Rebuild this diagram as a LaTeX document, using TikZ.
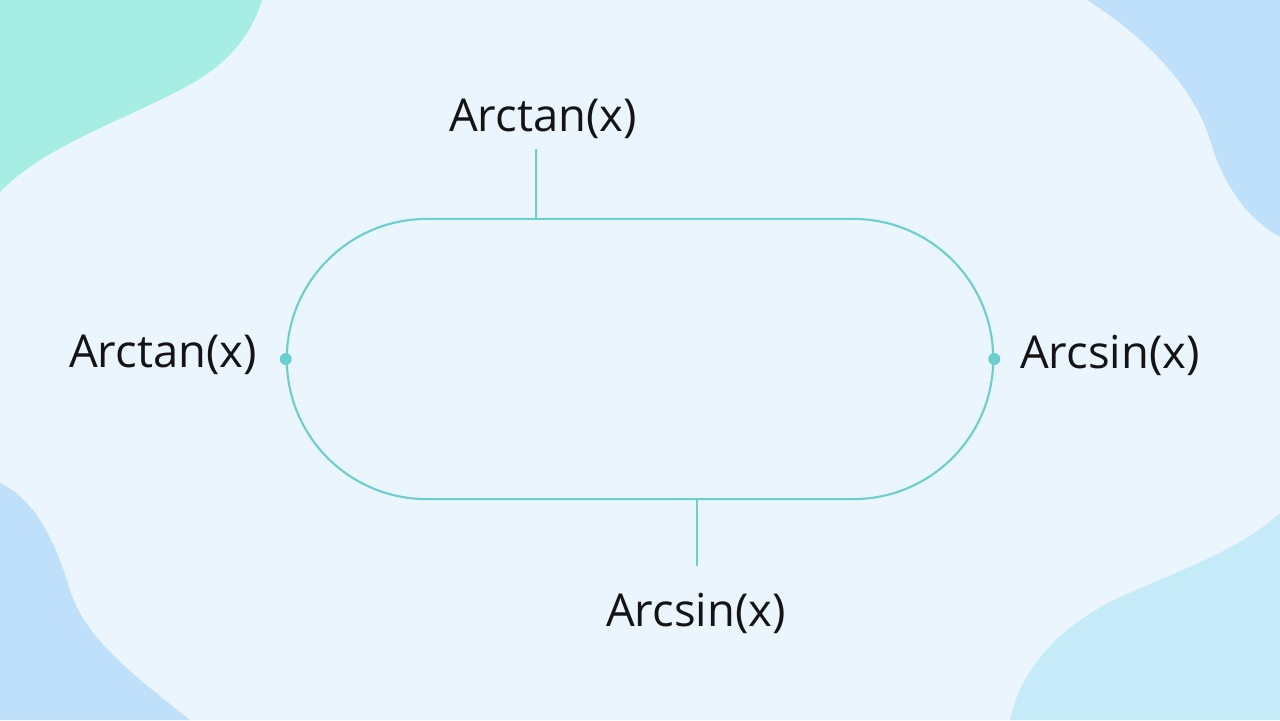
\documentclass[tikz,border=0pt]{standalone}
\usepackage{fontspec}
\setmainfont{Open Sans}
\usepackage{tikz}
\usetikzlibrary{positioning,calc}

\definecolor{bgblue}{HTML}{EAF5FE}
\definecolor{blobteal}{HTML}{A6EEE3}
\definecolor{blobblue}{HTML}{BEE0FB}
\definecolor{blobcyan}{HTML}{C6EBF8}
\definecolor{loopcol}{HTML}{6CCFCF}
\definecolor{labeltext}{HTML}{141414}

\tikzset{
	funclabel/.style={font=\fontsize{12.9pt}{15pt}\selectfont, text=labeltext, inner sep=0pt},
	loopline/.style={draw=loopcol, line width=0.6pt},
	enddot/.style={circle, fill=loopcol, inner sep=0pt, minimum size=0.12cm},
}

\begin{document}
\begin{tikzpicture}[x=0.01cm, y=-0.01cm]
		\fill[bgblue] (0,0) rectangle (1280,720);
		\useasboundingbox (0,0) rectangle (1280,720);
		
		\fill[blobteal] (0,0) -- (262,0) .. controls (248,45) and (218,72) .. (170,95) .. controls (110,125) and (40,150) .. (0,192) -- cycle;
		\fill[blobblue] (1087,0) .. controls (1150,40) and (1195,90) .. (1210,140) .. controls (1225,190) and (1250,220) .. (1280,237) -- (1280,0) -- cycle;
		\fill[blobblue] (0,483) .. controls (35,500) and (55,540) .. (70,590) .. controls (85,640) and (140,680) .. (190,720) -- (0,720) -- cycle;
		\fill[blobcyan] (1280,513) .. controls (1240,550) and (1180,570) .. (1120,597) .. controls (1060,625) and (1020,670) .. (1010,720) -- (1280,720) -- cycle;
		
		\node [loopline, rectangle, rounded corners=1.399cm, minimum width=7.06cm, minimum height=2.8cm, inner sep=0pt] (loop) at (640,359) {};
		
		\node [enddot] (ld) at (loop.west) {};
		\node [enddot] (rd) at (loop.east) {};
		
		\node [funclabel] (tatan) at (543,119) {Arctan(x)};
		\node [funclabel] (latan) at (163,355) {Arctan(x)};
		\node [funclabel] (rasin) at (1110,355) {Arcsin(x)};
		\node [funclabel] (basin) at (696,613) {Arcsin(x)};
		
		\coordinate (tstart) at (536,149);
		\coordinate (ttouch) at (536,219);
		\coordinate (bstart) at (697,566);
		\coordinate (btouch) at (697,499);
		
		\draw[loopline] (tstart)--(ttouch);
		\draw[loopline] (btouch)--(bstart);
	\end{tikzpicture}
\end{document}
